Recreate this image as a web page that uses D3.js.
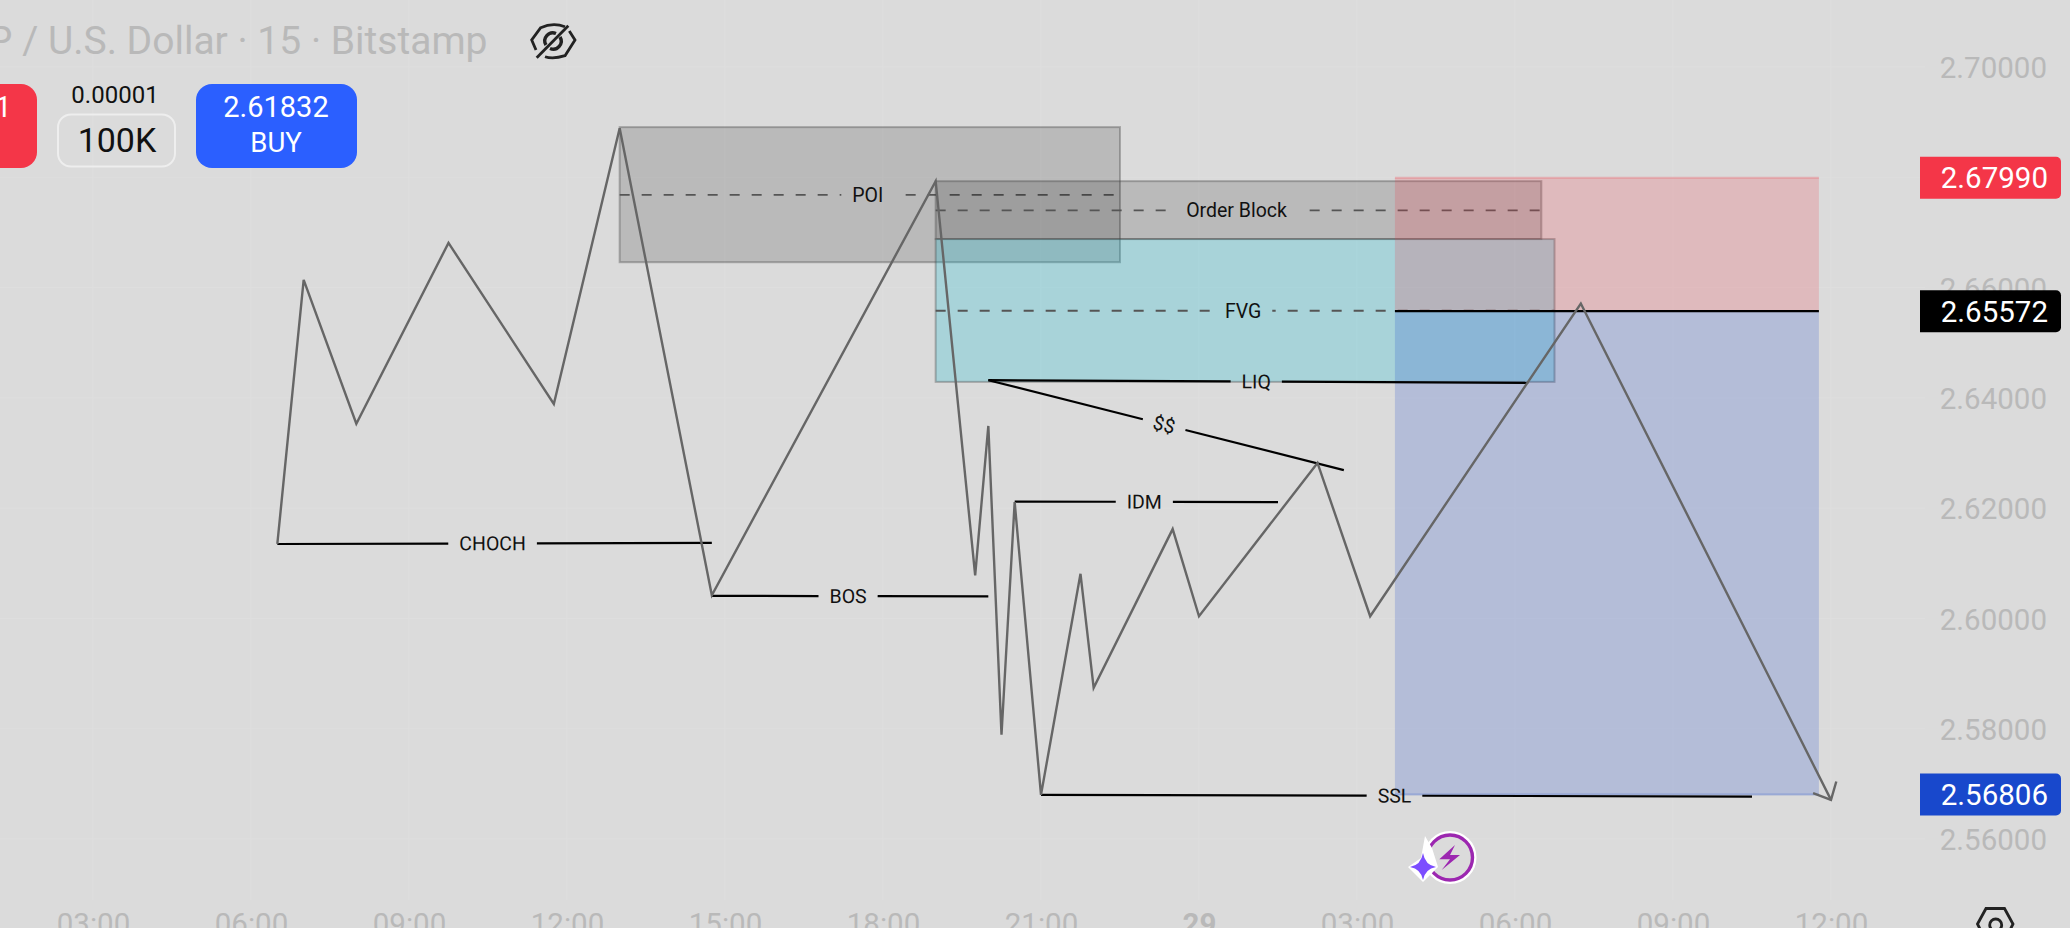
<!DOCTYPE html>
<html>
<head>
<meta charset="utf-8">
<script src="https://cdn.jsdelivr.net/npm/d3@7"></script>
<style>
  html, body { margin: 0; padding: 0; background: #dbdbdb; overflow: hidden; }
  text { font-family: Roboto, sans-serif; }
</style>
</head>
<body>
<div id="plot"></div>
<script>
// times are hours counted from 00:00 of the 28th
var xTickHours = [3, 6, 9, 12, 15, 18, 21, 24, 27, 30, 33, 36];
var xTickLabels = ["03:00", "06:00", "09:00", "12:00", "15:00", "18:00", "21:00", "29", "03:00", "06:00", "09:00", "12:00"];
var yTicks = [2.56, 2.58, 2.60, 2.62, 2.64, 2.66, 2.68, 2.70];
var yTicksShown = [2.56, 2.58, 2.60, 2.62, 2.64, 2.66, 2.70];

// the hand drawn price path
var pathHours = [6.5, 7, 8, 9.75, 11.75, 13, 14.75, 19, 19.75, 20, 20.25, 20.5, 21, 21.75, 22, 23.5, 24, 26.25, 27.25, 31.25, 36];
var pathPrices = [2.6135, 2.6614, 2.6353, 2.6681, 2.6389, 2.6889, 2.6042, 2.6793, 2.6078, 2.6349, 2.5789, 2.6211, 2.5680, 2.6081, 2.5874, 2.6162, 2.6004, 2.6282, 2.6004, 2.6571, 2.5671];

// zones
var zoneNames = ["POI", "Order Block", "FVG"];
var zoneStart = [13, 19, 19];
var zoneEnd = [22.5, 30.5, 30.75];
var zoneTop = [2.6891, 2.6793, 2.6688];
var zoneBottom = [2.6646, 2.6688, 2.6429];
var zoneMid = [2.6768, 2.6740, 2.6558];
var zoneFill = ["rgba(0,0,0,0.15)", "rgba(0,0,0,0.15)", "rgba(0,188,212,0.23)"];

// labelled lines
var lineNames = ["CHOCH", "BOS", "IDM", "LIQ", "$$", "SSL"];
var lineStart = [6.5, 14.75, 20.5, 20, 20, 21];
var lineEnd = [14.75, 20, 25.5, 30.25, 26.75, 34.5];
var lineP1 = [2.6135, 2.6041, 2.6212, 2.6432, 2.6432, 2.5680];
var lineP2 = [2.6137, 2.6040, 2.6211, 2.6427, 2.6269, 2.5677];

// short position tool
var posStart = 27.72, posEnd = 35.77;
var stopPrice = 2.6799, entryPrice = 2.65572, targetPrice = 2.56806;

// price tags on the axis
var tagPrices = [2.6799, 2.65572, 2.56806];
var tagLabels = ["2.67990", "2.65572", "2.56806"];
var tagColors = ["#f43648", "#000000", "#1848cc"];

var width = 2070, height = 928;
var xScale = d3.scaleLinear().domain([3, 36]).range([93, 1831]);
var yScale = d3.scaleLinear().domain([2.56, 2.70]).range([839, 67]);

var svg = d3.select("#plot").append("svg")
    .attr("width", width)
    .attr("height", height)
    .style("display", "block")
    .style("background", "#dbdbdb");

var defs = svg.append("defs");
defs.append("marker")
    .attr("id", "arrow")
    .attr("markerUnits", "userSpaceOnUse")
    .attr("markerWidth", 40).attr("markerHeight", 40)
    .attr("refX", 20).attr("refY", 20)
    .attr("orient", "auto")
  .append("path")
    .attr("d", "M6,7 L20,20 L6,33")
    .attr("fill", "none")
    .attr("stroke", "#666")
    .attr("stroke-width", 2.4);

// grid
svg.append("g").selectAll("line").data(yTicks).enter().append("line")
    .attr("x1", 0).attr("x2", 1925)
    .attr("y1", function(d) { return yScale(d); })
    .attr("y2", function(d) { return yScale(d); })
    .attr("stroke", "#dedede");
svg.append("g").selectAll("line").data(xTickHours).enter().append("line")
    .attr("x1", function(d) { return xScale(d); })
    .attr("x2", function(d) { return xScale(d); })
    .attr("y1", 0).attr("y2", 900)
    .attr("stroke", "#dedede");

// axes
var yAxis = d3.axisLeft(yScale).tickValues(yTicksShown).tickSize(0).tickPadding(0)
    .tickFormat(d3.format(".5f"));
var yG = svg.append("g").attr("transform", "translate(2047,0)").call(yAxis);
yG.select(".domain").remove();
yG.selectAll("text").attr("dy", "0.36em").style("font-size", "29.5px").attr("fill", "#b9b9b9");

var xAxis = d3.axisBottom(xScale).tickValues(xTickHours).tickSize(0).tickPadding(0)
    .tickFormat(function(d, i) { return xTickLabels[i]; });
var xG = svg.append("g").attr("transform", "translate(0,913)").call(xAxis);
xG.select(".domain").remove();
xG.selectAll("text")
    .style("font-size", "29.5px")
    .style("font-weight", function(d) { return d === 24 ? 700 : 400; })
    .attr("fill", "#b9b9b9");

// title
svg.append("text")
    .attr("x", 487.5).attr("y", 54)
    .attr("text-anchor", "end")
    .style("font-size", "39px")
    .attr("fill", "#b9b9b9")
    .text("XRP / U.S. Dollar \u00b7 15 \u00b7 Bitstamp");

// zones with dashed middle line and label
zoneNames.forEach(function(name, i) {
  var x1 = xScale(zoneStart[i]), x2 = xScale(zoneEnd[i]);
  var y1 = yScale(zoneTop[i]), y2 = yScale(zoneBottom[i]), ym = yScale(zoneMid[i]);
  var cx = (x1 + x2) / 2 - 2;
  svg.append("rect")
      .attr("x", x1).attr("y", y1)
      .attr("width", x2 - x1).attr("height", y2 - y1)
      .attr("fill", zoneFill[i])
      .attr("stroke", "rgba(70,70,70,0.36)")
      .attr("stroke-width", 2);
  var label = svg.append("text")
      .attr("x", cx).attr("y", ym)
      .attr("dy", "0.35em")
      .attr("text-anchor", "middle")
      .style("font-size", "19.5px")
      .attr("fill", "#111")
      .text(name);
  var gap = label.node().getComputedTextLength() / 2 + 11;
  // dash pattern runs on across the gap
  [[x1, cx - gap], [cx + gap, x2]].forEach(function(seg) {
    svg.append("line")
        .attr("x1", seg[0]).attr("x2", seg[1])
        .attr("y1", ym).attr("y2", ym)
        .attr("stroke", "#555")
        .attr("stroke-width", 1.8)
        .attr("stroke-dasharray", "10,12")
        .attr("stroke-dashoffset", seg[0] - x1);
  });
});

// position tool, over the zones
svg.append("rect")
    .attr("x", xScale(posStart)).attr("y", yScale(stopPrice))
    .attr("width", xScale(posEnd) - xScale(posStart))
    .attr("height", yScale(entryPrice) - yScale(stopPrice))
    .attr("fill", "rgba(242,54,69,0.2)");
svg.append("rect")
    .attr("x", xScale(posStart)).attr("y", yScale(entryPrice))
    .attr("width", xScale(posEnd) - xScale(posStart))
    .attr("height", yScale(targetPrice) - yScale(entryPrice))
    .attr("fill", "rgba(24,72,204,0.2)");
svg.append("line")
    .attr("x1", xScale(posStart)).attr("x2", xScale(posEnd))
    .attr("y1", yScale(stopPrice)).attr("y2", yScale(stopPrice))
    .attr("stroke", "rgba(242,54,69,0.25)").attr("stroke-width", 2);
svg.append("line")
    .attr("x1", xScale(posStart)).attr("x2", xScale(posEnd))
    .attr("y1", yScale(targetPrice)).attr("y2", yScale(targetPrice))
    .attr("stroke", "rgba(24,72,204,0.25)").attr("stroke-width", 2);

// entry line
svg.append("line")
    .attr("x1", xScale(posStart)).attr("x2", xScale(posEnd))
    .attr("y1", yScale(entryPrice)).attr("y2", yScale(entryPrice))
    .attr("stroke", "#000").attr("stroke-width", 2.2);

// labelled trend lines, the line breaks around its text
lineNames.forEach(function(name, i) {
  var x1 = xScale(lineStart[i]), x2 = xScale(lineEnd[i]);
  var y1 = yScale(lineP1[i]), y2 = yScale(lineP2[i]);
  var len = Math.sqrt((x2 - x1) * (x2 - x1) + (y2 - y1) * (y2 - y1));
  var ux = (x2 - x1) / len, uy = (y2 - y1) / len;
  var angle = Math.atan2(y2 - y1, x2 - x1) * 180 / Math.PI;
  var cx = (x1 + x2) / 2 - 2 * ux, cy = (y1 + y2) / 2 - 2 * uy;
  var label = svg.append("text")
      .attr("transform", "translate(" + cx + "," + cy + ") rotate(" + angle + ")")
      .attr("dy", "0.35em")
      .attr("text-anchor", "middle")
      .style("font-size", "19.5px")
      .attr("fill", "#111")
      .text(name);
  var gap = label.node().getComputedTextLength() / 2 + 11;
  [[x1, y1, cx - gap * ux, cy - gap * uy], [cx + gap * ux, cy + gap * uy, x2, y2]].forEach(function(seg) {
    svg.append("line")
        .attr("x1", seg[0]).attr("y1", seg[1])
        .attr("x2", seg[2]).attr("y2", seg[3])
        .attr("stroke", "#000")
        .attr("stroke-width", 2.2);
  });
});

// price path
var line = d3.line()
    .x(function(d) { return xScale(d); })
    .y(function(d, i) { return yScale(pathPrices[i]); });
svg.append("path")
    .attr("d", line(pathHours))
    .attr("fill", "none")
    .attr("stroke", "#666")
    .attr("stroke-width", 2.4)
    .attr("stroke-linejoin", "miter")
    .attr("marker-end", "url(#arrow)");

// price tags
tagPrices.forEach(function(p, i) {
  var y = yScale(p);
  svg.append("path")
      .attr("d", "M1920," + (y - 21) + "H2056a5,5 0 0 1 5,5V" + (y + 16) + "a5,5 0 0 1 -5,5H1920Z")
      .attr("fill", tagColors[i]);
  svg.append("text")
      .attr("x", 2048).attr("y", y)
      .attr("dy", "0.36em")
      .attr("text-anchor", "end")
      .style("font-size", "29.5px")
      .attr("fill", "#fff")
      .text(tagLabels[i]);
});

// sell / buy panel
svg.append("rect").attr("x", -124).attr("y", 84).attr("width", 161).attr("height", 84).attr("rx", 16)
    .attr("fill", "#f43648");
svg.append("text").attr("x", 11.5).attr("y", 107).attr("dy", "0.36em").attr("text-anchor", "end")
    .style("font-size", "29px").attr("fill", "#fff").text("2.61821");
svg.append("text").attr("x", 115).attr("y", 94).attr("dy", "0.36em").attr("text-anchor", "middle")
    .style("font-size", "24px").attr("fill", "#111").text("0.00001");
svg.append("rect").attr("x", 58).attr("y", 114.5).attr("width", 117).attr("height", 52).attr("rx", 13)
    .attr("fill", "none").attr("stroke", "#eeeeee").attr("stroke-width", 2);
svg.append("text").attr("x", 117).attr("y", 140).attr("dy", "0.36em").attr("text-anchor", "middle")
    .style("font-size", "34px").attr("fill", "#111").text("100K");
svg.append("rect").attr("x", 196).attr("y", 84).attr("width", 161).attr("height", 84).attr("rx", 16)
    .attr("fill", "#2b5fff");
svg.append("text").attr("x", 276).attr("y", 107).attr("dy", "0.36em").attr("text-anchor", "middle")
    .style("font-size", "29px").attr("fill", "#fff").text("2.61832");
svg.append("text").attr("x", 276).attr("y", 142).attr("dy", "0.36em").attr("text-anchor", "middle")
    .style("font-size", "27.5px").attr("fill", "#fff").text("BUY");

// hide eye icon
var eye = svg.append("g").attr("fill", "none").attr("stroke", "#222").attr("stroke-width", 2.8);
eye.append("path").attr("d", "M536,50 L531.7,40 L540.7,27.7 Q553,22 565,26.7");
eye.append("path").attr("d", "M545,56.7 Q553,59.5 565,55.7 L575,40 L569.3,31");
eye.append("path").attr("d", "M546,45 A8,8 0 0 1 556,33.5").attr("stroke-width", 3.4);
eye.append("path").attr("d", "M560,37 A8,8 0 0 1 550,48.5").attr("stroke-width", 3.4);
eye.append("line").attr("x1", 536.7).attr("y1", 57.7).attr("x2", 568.3).attr("y2", 25.7);

// settings icon, cut by the bottom edge
var gear = svg.append("g").attr("fill", "none").attr("stroke", "#222").attr("stroke-width", 2.8);
gear.append("path").attr("d", "M1977.5,924 L1986,908.5 L2004.5,908.5 L2013,924 L2004.5,941 L1986,941 Z");
gear.append("circle").attr("cx", 1995.7).attr("cy", 925).attr("r", 6);

// assistant badge
svg.append("circle").attr("cx", 1450).attr("cy", 857.5).attr("r", 25)
    .attr("fill", "none").attr("stroke", "#fff").attr("stroke-width", 3);
svg.append("circle").attr("cx", 1450).attr("cy", 857.5).attr("r", 22.5)
    .attr("fill", "none").attr("stroke", "#9c27b0").attr("stroke-width", 3.4);
svg.append("path").attr("d", "M1455,845 L1439.3,859.3 L1450,859.3 L1441.7,870 L1460,855 L1450,855 Z")
    .attr("fill", "#9c27b0");
// white wedge and halo for the star, hides the left of the ring
svg.append("path").attr("d", "M1425,836 L1432,848 L1438,867 L1423,882 L1408,867 L1421,858 Z")
    .attr("fill", "#fff");
svg.append("path").attr("d", "M1423,853 Q1425,865 1436,867 Q1425,869 1423,880 Q1421,869 1410,867 Q1421,865 1423,853 Z")
    .attr("fill", "#7c4dff");
</script>
</body>
</html>
